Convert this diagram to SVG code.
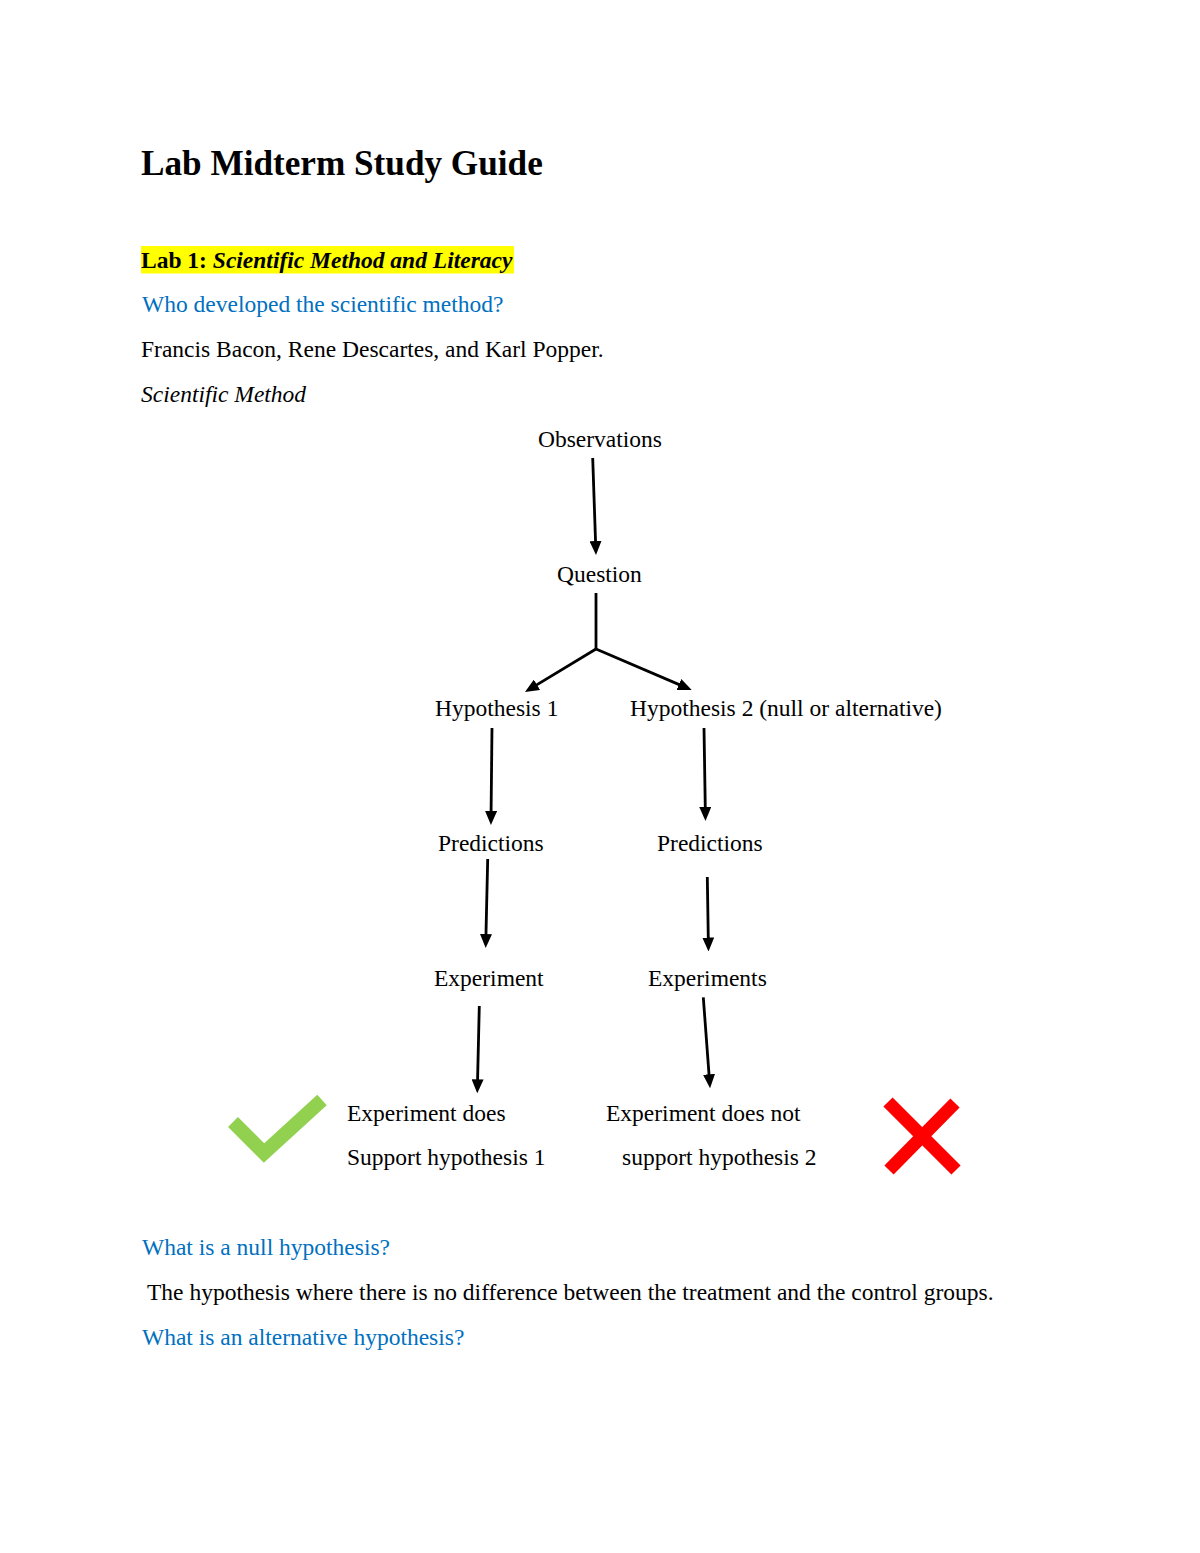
<svg xmlns="http://www.w3.org/2000/svg" width="1200" height="1553" viewBox="0 0 1200 1553">
<style>
text{font-family:"Liberation Serif","Times New Roman",serif;font-size:23.5px;fill:#000}
.title{font-size:35.2px;font-weight:bold}
.q{fill:#0070C0}
.conn line{stroke:#000;stroke-width:2.8;fill:none}
</style>
<defs>
<marker id="ah" viewBox="0 0 14 12" refX="8" refY="6" markerWidth="14" markerHeight="12" markerUnits="userSpaceOnUse" orient="auto">
<path d="M0,0 L14,6 L0,12 z" fill="#000"/>
</marker>
</defs>
<rect width="1200" height="1553" fill="#fff"/>

<text class="title" x="141" y="175">Lab Midterm Study Guide</text>
<rect x="141" y="246" width="373" height="27.5" fill="#FFFF00"/>
<text x="141" y="268" font-weight="bold">Lab 1: <tspan font-style="italic">Scientific Method and Literacy</tspan></text>
<text class="q" x="142" y="312">Who developed the scientific method?</text>
<text x="141" y="357">Francis Bacon, Rene Descartes, and Karl Popper.</text>
<text x="141" y="402" font-style="italic">Scientific Method</text>

<g id="observations"><text x="538" y="447">Observations</text></g>
<g id="question"><text x="557" y="581.5">Question</text></g>
<g id="hypothesis1"><text x="435" y="716">Hypothesis 1</text></g>
<g id="hypothesis2"><text x="630" y="716">Hypothesis 2 (null or alternative)</text></g>
<g id="predictions1"><text x="438" y="850.5">Predictions</text></g>
<g id="predictions2"><text x="657" y="850.5">Predictions</text></g>
<g id="experiment1"><text x="434" y="985.5">Experiment</text></g>
<g id="experiments2"><text x="648" y="985.5">Experiments</text></g>
<g id="result1">
<text x="347" y="1120.5">Experiment does</text>
<text x="347" y="1165">Support hypothesis 1</text>
</g>
<g id="result2">
<text x="606" y="1120.5">Experiment does not</text>
<text x="622" y="1165">support hypothesis 2</text>
</g>
<g id="checkmark">
<polyline points="233,1122 264,1153 322,1100" fill="none" stroke="#92D050" stroke-width="14" stroke-linejoin="miter"/>
</g>
<g id="cross">
<line x1="888" y1="1102" x2="956" y2="1170" stroke="#FF0000" stroke-width="13"/>
<line x1="955" y1="1103" x2="889" y2="1170" stroke="#FF0000" stroke-width="13"/>
</g>

<g class="conn" id="connectors">
<line x1="592.7" y1="458" x2="595.8" y2="549" marker-end="url(#ah)"/>
<line x1="596" y1="593" x2="596" y2="649"/>
<line x1="596" y1="649" x2="530.1" y2="688.9" marker-end="url(#ah)"/>
<line x1="596" y1="649" x2="686.2" y2="687.6" marker-end="url(#ah)"/>
<line x1="492" y1="728" x2="491" y2="819" marker-end="url(#ah)"/>
<line x1="704" y1="728" x2="705.4" y2="815" marker-end="url(#ah)"/>
<line x1="487.7" y1="859" x2="485.8" y2="942" marker-end="url(#ah)"/>
<line x1="707.3" y1="877" x2="708.4" y2="945.5" marker-end="url(#ah)"/>
<line x1="479.3" y1="1006" x2="477.4" y2="1087.3" marker-end="url(#ah)"/>
<line x1="703.3" y1="997.3" x2="709.6" y2="1082.3" marker-end="url(#ah)"/>
</g>

<text class="q" x="142" y="1255">What is a null hypothesis?</text>
<text x="147" y="1300">The hypothesis where there is no difference between the treatment and the control groups.</text>
<text class="q" x="142" y="1345">What is an alternative hypothesis?</text>
</svg>
